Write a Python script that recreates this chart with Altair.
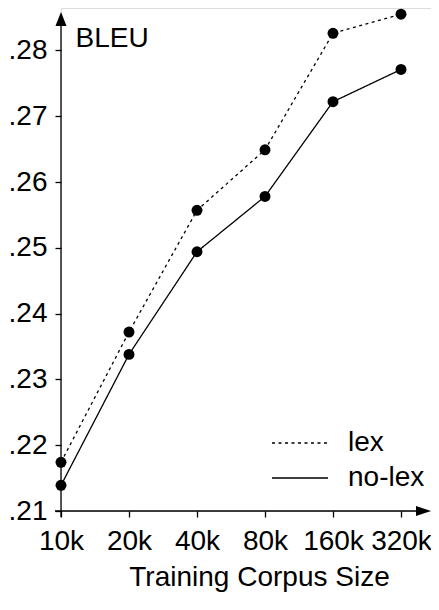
import altair as alt
import pandas as pd

sizes = ["10k", "20k", "40k", "80k", "160k", "320k"]
lex = [0.2174, 0.2372, 0.2557, 0.2649, 0.2826, 0.2855]
nolex = [0.2139, 0.2338, 0.2494, 0.2578, 0.2722, 0.2771]
series = ["lex", "no-lex"]
y_ticks = [0.21, 0.22, 0.23, 0.24, 0.25, 0.26, 0.27, 0.28]

FONT = "Liberation Sans"
H = 503
W = 370
PX_PER_UNIT = 6580.0
ymin = 0.21
ymax = 0.21 + H / PX_PER_UNIT
STEP = 68

df = pd.DataFrame({
    "size": sizes * 2,
    "bleu": lex + nolex,
    "series": [series[0]] * len(sizes) + [series[1]] * len(sizes),
})

x_enc = alt.X(
    "size:O", sort=sizes,
    scale=alt.Scale(type="point", range=[0, STEP * 5], padding=0),
    axis=alt.Axis(
        title="Training Corpus Size", labelAngle=0, domain=False, grid=False,
        tickSize=6, tickWidth=1.3, tickColor="black",
        labelPadding=10, labelFontSize=28, labelColor="black", labelFont=FONT,
        titleFontSize=28, titleFontWeight="normal", titleColor="black", titleFont=FONT,
        titleX=198, titleY=74, titleAlign="center", titleBaseline="alphabetic",
    ),
)
y_enc = alt.Y(
    "bleu:Q",
    scale=alt.Scale(domain=[ymin, ymax], nice=False, zero=False),
    axis=alt.Axis(
        values=y_ticks, labelExpr="substring(format(datum.value, '.2f'), 1)",
        domain=False, grid=False, tickSize=6, tickWidth=1.3, tickColor="black",
        labelPadding=8, labelFontSize=28, labelColor="black", labelFont=FONT,
        title="BLEU", titleAngle=0, titleX=14, titleY=38, titleAlign="left",
        titleBaseline="alphabetic", titleFontSize=28, titleFontWeight="normal",
        titleColor="black", titleFont=FONT,
    ),
)

lines = alt.Chart(df).mark_line(color="black", strokeWidth=1.3).encode(
    x=x_enc, y=y_enc,
    strokeDash=alt.StrokeDash(
        "series:N",
        scale=alt.Scale(domain=series, range=[[3, 3.5], [1, 0]]),
        legend=alt.Legend(
            title=None, orient="none", legendX=225, legendY=421,
            symbolType="M-4,0L4,0", symbolSize=196, symbolStrokeColor="black",
            symbolStrokeWidth=1.3, labelFontSize=28, labelFont=FONT,
            labelColor="black", labelOffset=34, rowPadding=7, padding=0,
        ),
    ),
)

points = alt.Chart(df).mark_circle(size=120, color="black", opacity=1).encode(
    x=x_enc, y=y_enc, detail="series:N"
)

one = pd.DataFrame({"k": [0]})
y_axis_line = alt.Chart(one).mark_rule(color="black", strokeWidth=1.3).encode(
    x=alt.value(0), y=alt.value(11), y2=alt.value(H + 6)
)
x_axis_line = alt.Chart(one).mark_rule(color="black", strokeWidth=1.3).encode(
    x=alt.value(-6), x2=alt.value(W - 8), y=alt.value(H)
)
y_arrow = alt.Chart(one).mark_point(
    shape="M0,-1L0.79,1L-0.79,1Z", size=196, filled=True, color="black",
    opacity=1, strokeWidth=0,
).encode(x=alt.value(0), y=alt.value(11))
x_arrow = alt.Chart(one).mark_point(
    shape="M1,0L-1,0.67L-1,-0.67Z", size=225, filled=True, color="black",
    opacity=1, strokeWidth=0,
).encode(x=alt.value(W - 7.5), y=alt.value(H))

chart = alt.layer(
    y_axis_line, x_axis_line, y_arrow, x_arrow, lines, points
).properties(
    width=W, height=H,
    autosize=alt.AutoSizeParams(type="none"),
    padding={"left": 53, "top": 0, "right": 0, "bottom": 81},
).configure_view(stroke=None).configure(font=FONT)

chart.save("out.html", embed_options={"renderer": "svg", "actions": False})
